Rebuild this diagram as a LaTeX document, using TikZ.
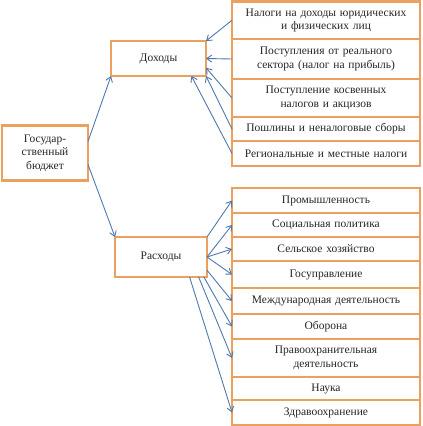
\documentclass[tikz,border=0pt]{standalone}
\usepackage{fontspec}
\setmainfont{Liberation Serif}
\usetikzlibrary{arrows.meta, positioning}
\definecolor{boxline}{RGB}{235, 160, 95}
\definecolor{arrowline}{RGB}{80, 120, 175}

\begin{document}
\begin{tikzpicture}[
        x=1pt, y=-1pt,
        node distance=0pt,
        block/.style={rectangle, draw=boxline, line width=2.6pt, fill=white,
                      align=center, outer sep=0pt, inner sep=1pt,
                      font=\fontsize{11.5}{13.5}\selectfont, text=black!85},
        item/.style={block, minimum width=188pt, text width=184pt},
        arrow/.style={-{Straight Barb[length=5pt, width=7pt]}, arrowline, line width=0.9pt},
    ]
        \useasboundingbox (0,0) rectangle (423,426);

        \node[block, minimum width=86pt, minimum height=55pt] (budget) at (45,153) {Государ-\\ственный\\бюджет};
        \node[block, minimum width=95pt, minimum height=35pt] (income) at (158.5,58.5) {Доходы};
        \node[block, minimum width=92pt, minimum height=40pt] (spend) at (161,257) {Расходы};

        % income sources
        \node[item, minimum height=37.5pt, anchor=north] (inc1) at (326,1.5) {Налоги на доходы юридических\\и физических лиц};
        \node[item, minimum height=40pt, below=of inc1] (inc2) {Поступления от реального\\сектора (налог на прибыль)};
        \node[item, minimum height=38pt, below=of inc2] (inc3) {Поступление косвенных\\налогов и акцизов};
        \node[item, minimum height=24pt, below=of inc3] (inc4) {Пошлины и неналоговые сборы};
        \node[item, minimum height=25pt, below=of inc4] (inc5) {Региональные и местные налоги};

        % spending items
        \node[item, minimum height=25pt, anchor=north] (exp1) at (326,188) {Промышленность};
        \node[item, minimum height=24pt, below=of exp1] (exp2) {Социальная политика};
        \node[item, minimum height=24pt, below=of exp2] (exp3) {Сельское хозяйство};
        \node[item, minimum height=27pt, below=of exp3] (exp4) {Госуправление};
        \node[item, minimum height=26pt, below=of exp4] (exp5) {Международная деятельность};
        \node[item, minimum height=25pt, below=of exp5] (exp6) {Оборона};
        \node[item, minimum height=38pt, below=of exp6] (exp7) {Правоохранительная\\деятельность};
        \node[item, minimum height=23pt, below=of exp7] (exp8) {Наука};
        \node[item, minimum height=25pt, below=of exp8] (exp9) {Здравоохранение};

        \draw[arrow] (budget.15) -- (income.south west);
        \draw[arrow] (budget.-15) -- (spend.north west);

        \draw[arrow] (inc1.west) -- (income.north east);
        \draw[arrow] (inc2.west) -- (income.east);
        \draw[arrow] (inc3.west) -- (income.-11);
        \draw[arrow] (inc4.west) -- (income.south east);
        \draw[arrow] (inc5.west) -- (income.-28);

        \draw[arrow] (spend.north east) -- (exp1.west);
        \draw[arrow] (spend.east) -- (exp2.west);
        \draw[arrow] (spend.east) -- (exp3.west);
        \draw[arrow] (spend.east) -- (exp4.west);
        \draw[arrow] (spend.-16) -- (exp5.west);
        \draw[arrow] (spend.-25) -- (exp6.west);
        \draw[arrow] (spend.-28) -- (exp7.west);
        \draw[arrow] (spend.-35) -- (exp9.west);

    \end{tikzpicture}
\end{document}
